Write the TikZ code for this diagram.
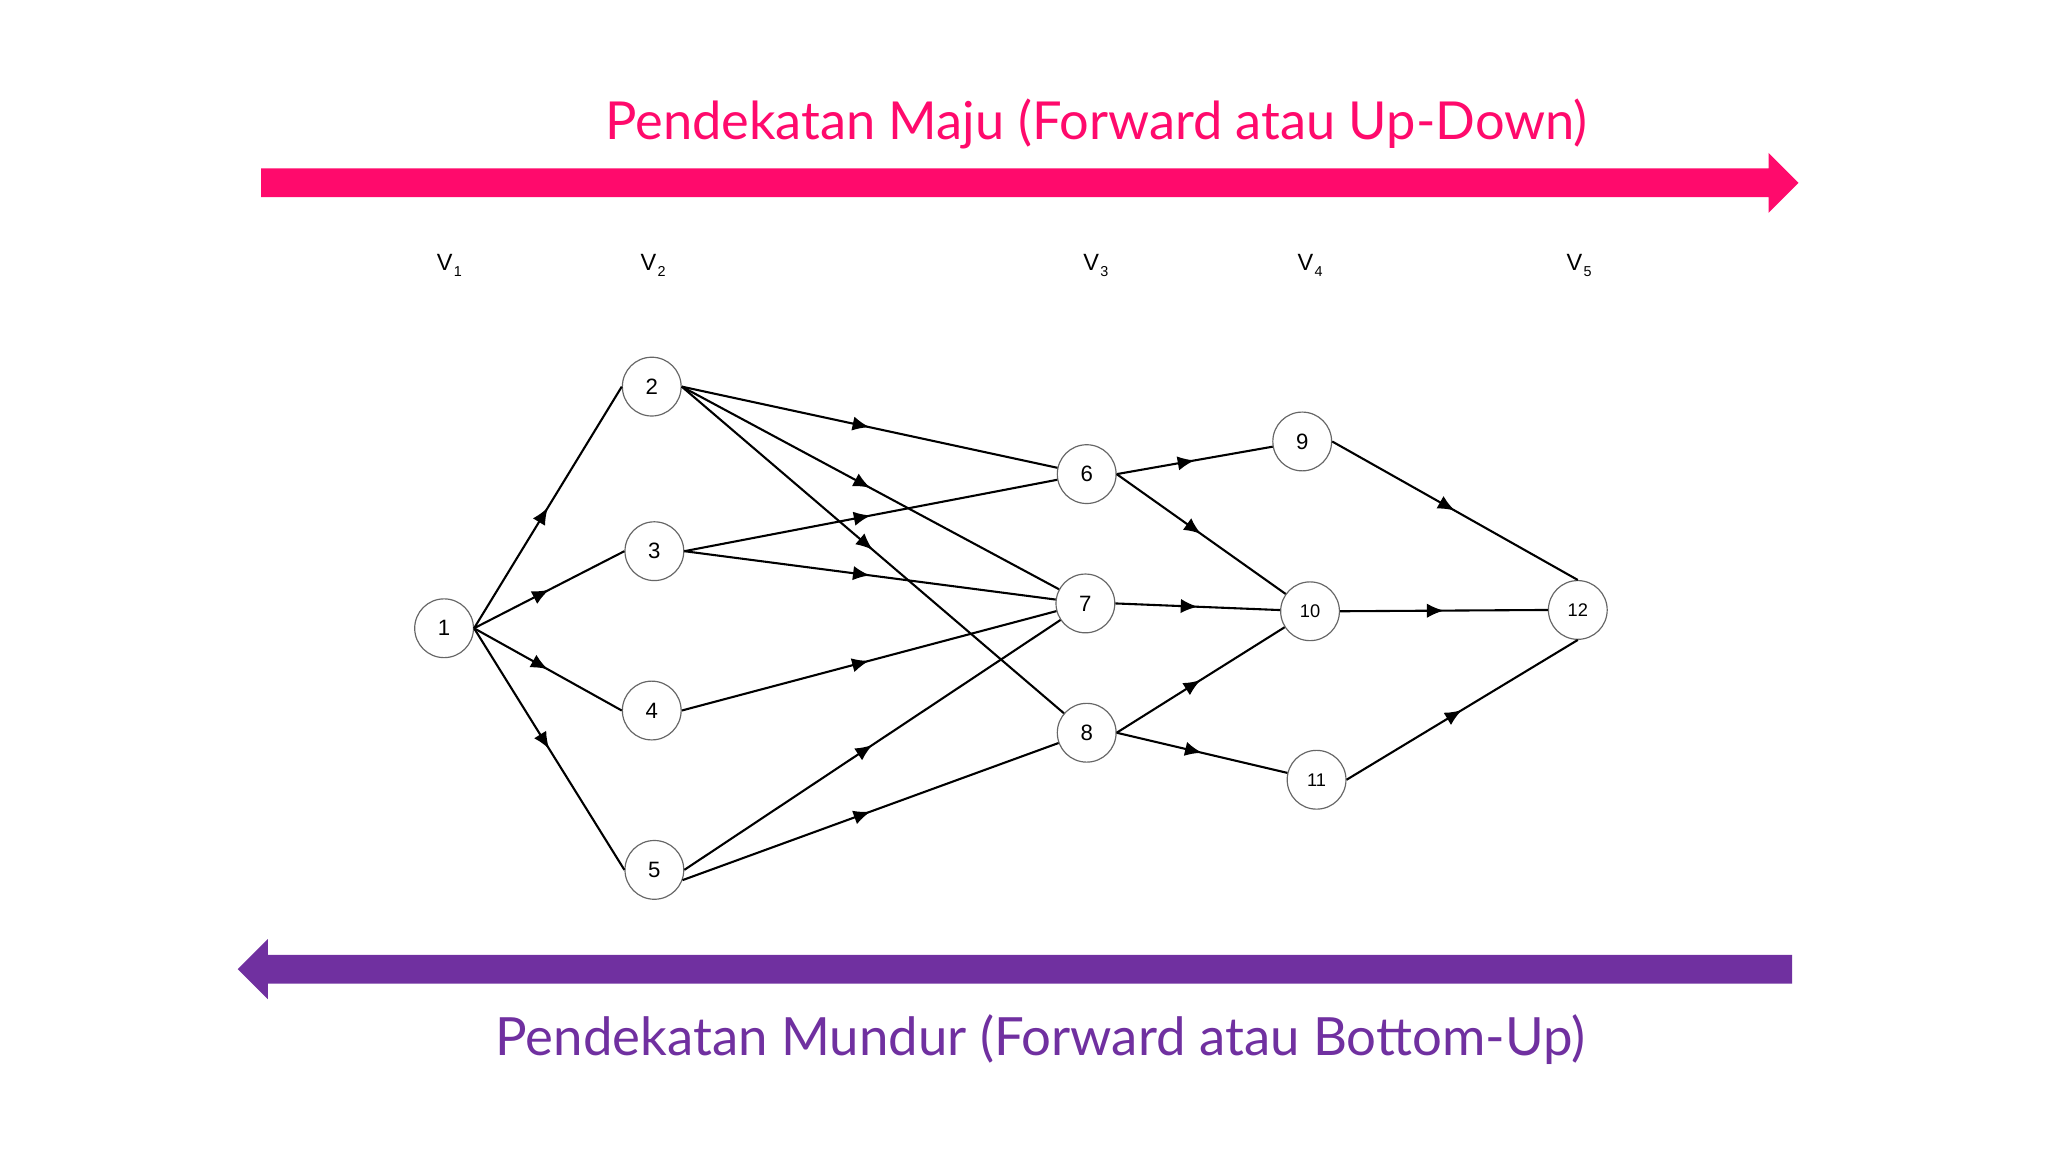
\documentclass[tikz,border=0pt]{standalone}
\usepackage{fontspec}
\setmainfont{Liberation Sans}
\newfontfamily\titlefont{Lato}
\usetikzlibrary{arrows.meta,decorations.markings}
\definecolor{pinkc}{HTML}{FF0A6C}
\definecolor{purplec}{HTML}{7030A0}
\begin{document}
\begin{tikzpicture}[x=0.5pt,y=-0.5pt,
  vtx/.style={circle,draw=black!60,line width=0.45pt,fill=white,minimum size=22.5pt,inner sep=0pt,font=\fontsize{8.5}{10}\selectfont},
  vtxs/.style={vtx,font=\fontsize{7}{8}\selectfont},
  edge/.style={line width=0.8pt,black,postaction={decorate},
    decoration={markings,mark=at position 0.5 with {\arrow{Latex[length=6.5pt,width=5.5pt]}}}},
  vlab/.style={anchor=base west,inner sep=0pt,font=\fontsize{9}{10}\selectfont},
  ttl/.style={anchor=base west,inner sep=0pt}]
\useasboundingbox (0,0) rectangle (1568,882);
\fill[white] (0,0) rectangle (1568,882);

% big arrows
\fill[pinkc] (200,129) -- (1354,129) -- (1354,117) -- (1377,140) -- (1354,163) -- (1354,151) -- (200,151) -- cycle;
\fill[purplec] (1372,731) -- (205,731) -- (205,719) -- (182,742) -- (205,765) -- (205,753) -- (1372,753) -- cycle;

% titles
\node[ttl,text=pinkc] (t1) at (463,107) {\resizebox{376pt}{!}{\titlefont\fontsize{20}{24}\selectfont Pendekatan Maju (Forward atau Up-Down)}};
\node[ttl,text=purplec] (t2) at (379,808) {\resizebox{417pt}{!}{\titlefont\fontsize{20}{24}\selectfont Pendekatan Mundur (Forward atau Bottom-Up)}};

% stage labels
\newcommand{\stg}[1]{V\hspace{0.5pt}\raisebox{-0.5ex}{\fontsize{5.5}{6}\selectfont #1}}
\node[vlab] (v1) at (334,207) {\stg{1}};
\node[vlab] (v2) at (490,207) {\stg{2}};
\node[vlab] (v3) at (829,207) {\stg{3}};
\node[vlab] (v4) at (993,207) {\stg{4}};
\node[vlab] (v5) at (1199,207) {\stg{5}};

% vertices
\node[vtx] (n1) at (340,481) {1};
\node[vtx] (n2) at (499,296) {2};
\node[vtx] (n3) at (501,422) {3};
\node[vtx] (n4) at (499,544) {4};
\node[vtx] (n5) at (501,666) {5};
\node[vtx] (n6) at (832,363) {6};
\node[vtx] (n7) at (831,462) {7};
\node[vtx] (n8) at (832,561) {8};
\node[vtx] (n9) at (997,338) {9};
\node[vtxs] (n10) at (1003,468) {10};
\node[vtxs] (n11) at (1008,597) {11};
\node[vtxs] (n12) at (1208,467) {12};

% edges
\draw[edge] (n1.east) -- (n2.west);
\draw[edge] (n1.east) -- (n3.west);
\draw[edge] (n1.east) -- (n4.west);
\draw[edge] (n1.east) -- (n5.west);
\draw[edge] (n2.east) -- (n6);
\draw[edge] (n2.east) -- (n7);
\draw[edge] (n2.east) -- (n8);
\draw[edge] (n3.east) -- (n6);
\draw[edge] (n3.east) -- (n7);
\draw[edge] (n4.east) -- (n7);
\draw[edge] (n5.east) -- (n7);
\draw[edge] (n5.-20) -- (n8);
\draw[edge] (n6.east) -- (n9);
\draw[edge] (n6.east) -- (n10);
\draw[edge] (n7.east) -- (n10);
\draw[edge] (n8.east) -- (n10);
\draw[edge] (n8.east) -- (n11);
\draw[edge] (n9.east) -- (n12.north);
\draw[edge] (n10.east) -- (n12.west);
\draw[edge] (n11.east) -- (n12.south);
\end{tikzpicture}
\end{document}
